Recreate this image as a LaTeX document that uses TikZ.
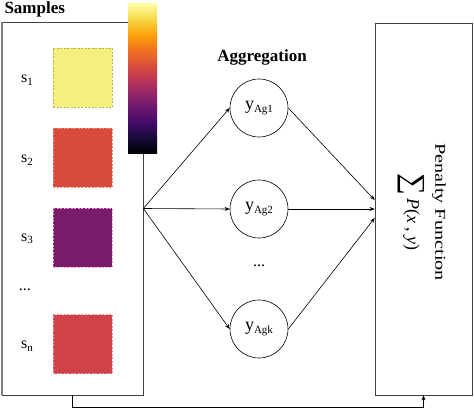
\documentclass[tikz,border=0pt]{standalone}
\usepackage{fontspec}
\setmainfont{Liberation Serif}
\usetikzlibrary{arrows.meta,calc}
\definecolor{inf0}{RGB}{0,0,4}
\definecolor{inf1}{RGB}{22,11,57}
\definecolor{inf2}{RGB}{66,10,104}
\definecolor{inf3}{RGB}{106,23,110}
\definecolor{inf4}{RGB}{147,38,103}
\definecolor{inf5}{RGB}{188,55,84}
\definecolor{inf6}{RGB}{221,81,58}
\definecolor{inf7}{RGB}{243,118,27}
\definecolor{inf8}{RGB}{252,165,10}
\definecolor{inf9}{RGB}{246,215,70}
\definecolor{inf10}{RGB}{252,255,164}
\definecolor{cA}{RGB}{243,240,125}
\definecolor{cAb}{RGB}{190,175,80}
\definecolor{cB}{RGB}{216,74,60}
\definecolor{cBb}{RGB}{235,140,120}
\definecolor{cC}{RGB}{122,27,108}
\definecolor{cCb}{RGB}{230,160,210}
\definecolor{cD}{RGB}{206,66,72}
\definecolor{cDb}{RGB}{240,150,160}
\newcommand{\mysub}[1]{\raisebox{-2.5pt}{\fontsize{11}{11}\selectfont #1}}
\begin{document}
\begin{tikzpicture}[x=1pt,y=-1pt,
  box/.style={draw=black!75,line width=0.7pt,inner sep=0pt},
  sq/.style={minimum size=59pt,inner sep=0pt,line width=0.7pt,dash pattern=on 2pt off 1.5pt},
  agg/.style={circle,draw,line width=0.6pt,minimum size=58pt,inner sep=0pt,font=\fontsize{18}{18}\selectfont},
  arr/.style={-{Stealth[length=5pt,width=4pt]},line width=0.6pt},
  lab/.style={font=\fontsize{16}{16}\selectfont},
  ttl/.style={font=\fontsize{17}{17}\selectfont\bfseries}]
\useasboundingbox (0,0) rectangle (474,412);
% samples box
\node[box,minimum width=141pt,minimum height=373pt] (samp) at (72.5,208.5) {};
\draw[gray,line width=2pt] (samp.north west) -- (samp.south west);
\node[ttl,anchor=west] (stitle) at (1,9) {Samples};
% colorbar
\foreach \i [evaluate=\i as \j using int(\i+1)] in {0,...,9} {
  \shade[bottom color=inf\i, top color=inf\j] (128,{153-14.9*\i+0.3}) rectangle (157,{153-14.9*\j-0.3});
}
% squares
\node[sq,fill=cA,draw=cAb] (q1) at (82.5,77.5) {};
\node[sq,fill=cB,draw=cBb] (q2) at (82.5,157.5) {};
\node[sq,fill=cC,draw=cCb] (q3) at (82.5,237.5) {};
\node[sq,fill=cD,draw=cDb] (qn) at (82.5,344) {};
\node[lab] (l1) at (27,80) {s\mysub{1}};
\node[lab] (l2) at (27,160) {s\mysub{2}};
\node[lab] (l3) at (27,239) {s\mysub{3}};
\node[lab] (ld) at (25,290) {...};
\node[lab] (ln) at (27,346) {s\mysub{n}};
% aggregation
\node[ttl] (atitle) at (262,57) {Aggregation};
\node[agg] (c1) at (259,108) {y\mysub{Ag1}};
\node[agg] (c2) at (259,209) {y\mysub{Ag2}};
\node[agg] (ck) at (259,329) {y\mysub{Agk}};
\node[lab] (cd) at (259,266) {...};
% penalty box
\node[box,minimum width=97pt,minimum height=372pt] (pen) at (423.5,209) {};
\node[rotate=-90,font=\fontsize{15}{15}\selectfont] (ptxt) at (439,212) {\scalebox{1.35}[1]{Penalty Function}};
\node[rotate=-90,font=\fontsize{18}{18}\selectfont] (psum) at (411,212) {\raisebox{-3pt}{\scalebox{1.7}{∑}}\,\textit{P}(\textit{x} , \textit{y})};
% connectors
\draw[arr] (samp.east) -- (c1.west);
\draw[arr] (samp.east) -- (c2.west);
\draw[arr] (samp.east) -- (ck.west);
\draw[arr] (c1.east) -- ($(pen.west)+(0,-9)$);
\draw[arr] (c2.east) -- (pen.west);
\draw[arr] (ck.east) -- ($(pen.west)+(0,9)$);
\draw[arr] (samp.south) -- ++(0,12) -| (pen.south);
\end{tikzpicture}
\end{document}
